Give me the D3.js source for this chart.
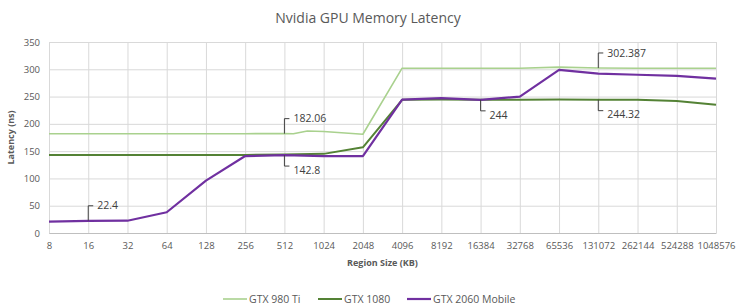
<!DOCTYPE html>
<html>
<head>
<meta charset="utf-8">
<script src="https://cdn.jsdelivr.net/npm/d3@7"></script>
<style>
  body { margin: 0; background: #fff; }
  text { font-family: "Open Sans", sans-serif; }
</style>
</head>
<body>
<div id="chart"></div>
<script>
// Nvidia GPU Memory Latency - line chart, log2 x axis
const xTicks = [8, 16, 32, 64, 128, 256, 512, 1024, 2048, 4096, 8192, 16384, 32768, 65536, 131072, 262144, 524288, 1048576];
const yTicks = [0, 50, 100, 150, 200, 250, 300, 350];

const sizes980 = [8, 16, 32, 64, 128, 256, 512, 600, 768, 1024, 2048, 4096, 8192, 16384, 32768, 65536, 131072, 262144, 524288, 1048576];
const lat980 = [182, 182, 182, 182, 182, 182, 182.06, 182, 187, 186, 181, 302, 302, 302, 302, 304, 302.387, 302, 302, 302];

const sizes1080 = [8, 16, 32, 64, 128, 256, 512, 1024, 2048, 4096, 8192, 16384, 32768, 65536, 131072, 262144, 524288, 1048576];
const lat1080 = [143, 143, 143, 143, 143, 143, 144, 145, 157, 244, 244.5, 244, 244, 244.5, 244.32, 244, 242, 235];

const sizes2060 = [8, 16, 32, 64, 128, 256, 512, 1024, 2048, 4096, 8192, 16384, 32768, 65536, 131072, 262144, 524288, 1048576];
const lat2060 = [21, 22.4, 22.5, 38, 96, 141, 142.8, 141, 141, 244.5, 247, 244, 250, 299, 292, 290, 288, 283];

const seriesNames = ["GTX 980 Ti", "GTX 1080", "GTX 2060 Mobile"];
const seriesColors = ["#a9d18e", "#548235", "#7030a0"];

// callout labels: [series index, size, text, direction]
const callouts = [
    [2, 16, "22.4", "up"],
    [0, 512, "182.06", "up"],
    [2, 512, "142.8", "down"],
    [2, 16384, "244", "down"],
    [0, 131072, "302.387", "up"],
    [1, 131072, "244.32", "down"]
];

const svgWidth = 752, svgHeight = 308;
const margin = { top: 42, right: 36, bottom: 75, left: 49 };
const width = svgWidth - margin.left - margin.right;
const height = svgHeight - margin.top - margin.bottom;

const svg = d3.select("#chart")
    .append("svg")
    .attr("width", svgWidth)
    .attr("height", svgHeight);

const g = svg.append("g")
    .attr("transform", `translate(${margin.left},${margin.top})`);

const xScale = d3.scaleLog().base(2)
    .domain([8, 1048576])
    .range([0, width]);

const yScale = d3.scaleLinear()
    .domain([0, 350])
    .range([height, 0]);

// grid
g.append("g")
    .attr("class", "grid")
    .call(d3.axisLeft(yScale).tickValues(yTicks).tickSize(-width).tickFormat(""))
    .call(s => s.select(".domain").remove())
    .selectAll("line")
    .attr("stroke", "#d9d9d9");

g.append("g")
    .attr("class", "grid")
    .attr("transform", `translate(0,${height})`)
    .call(d3.axisBottom(xScale).tickValues(xTicks).tickSize(-height).tickFormat(""))
    .call(s => s.select(".domain").remove())
    .selectAll("line")
    .attr("stroke", "#d9d9d9");

// axes
const xAxis = g.append("g")
    .attr("transform", `translate(0,${height})`)
    .call(d3.axisBottom(xScale).tickValues(xTicks).tickSize(0).tickPadding(9).tickFormat(d => d));
xAxis.select(".domain").attr("stroke", "#bfbfbf");
xAxis.selectAll("text")
    .attr("font-size", "9.5px")
    .attr("fill", "#595959");

const yAxis = g.append("g")
    .call(d3.axisLeft(yScale).tickValues(yTicks).tickSize(0).tickPadding(9));
yAxis.select(".domain").remove();
yAxis.selectAll("text")
    .attr("font-size", "9.5px")
    .attr("fill", "#595959");

// lines
const allSeries = [
    sizes980.map((s, i) => ({ x: s, y: lat980[i] })),
    sizes1080.map((s, i) => ({ x: s, y: lat1080[i] })),
    sizes2060.map((s, i) => ({ x: s, y: lat2060[i] }))
];
const lineWidths = [1.6, 2, 2.2];

const line = d3.line()
    .x(d => xScale(d.x))
    .y(d => yScale(d.y));

allSeries.forEach((data, i) => {
    g.append("path")
        .datum(data)
        .attr("fill", "none")
        .attr("stroke", seriesColors[i])
        .attr("stroke-width", lineWidths[i])
        .attr("stroke-linejoin", "round")
        .attr("d", line);
});

// callouts
callouts.forEach(c => {
    const [si, size, label, dir] = c;
    const idx = allSeries[si].findIndex(d => d.x === size);
    const px = xScale(size);
    const py = yScale(allSeries[si][idx].y);
    const ty = dir === "up" ? py - 15 : py + 11;
    g.append("path")
        .attr("d", `M${px},${py} L${px},${ty} L${px + 5},${ty}`)
        .attr("fill", "none")
        .attr("stroke", "#404040")
        .attr("stroke-width", 1);
    g.append("text")
        .attr("x", px + 9)
        .attr("y", ty + (dir === "up" ? 0 : 4))
        .attr("dy", "0.35em")
        .attr("font-size", "10.5px")
        .attr("fill", "#404040")
        .text(label);
});

// title
svg.append("text")
    .attr("x", 368)
    .attr("y", 18)
    .attr("dy", "0.35em")
    .attr("text-anchor", "middle")
    .attr("font-size", "14px")
    .attr("fill", "#595959")
    .text("Nvidia GPU Memory Latency");

// axis titles
svg.append("text")
    .attr("transform", `translate(11,${margin.top + height / 2}) rotate(-90)`)
    .attr("dy", "0.35em")
    .attr("text-anchor", "middle")
    .attr("font-size", "9px")
    .attr("font-weight", "bold")
    .attr("fill", "#595959")
    .text("Latency (ns)");

svg.append("text")
    .attr("x", margin.left + width / 2)
    .attr("y", 263)
    .attr("dy", "0.35em")
    .attr("text-anchor", "middle")
    .attr("font-size", "9px")
    .attr("font-weight", "bold")
    .attr("fill", "#595959")
    .text("Region Size (KB)");

// legend
const legendX = [223, 318, 407];
seriesNames.forEach((name, i) => {
    const lg = svg.append("g").attr("transform", `translate(${legendX[i]},299)`);
    lg.append("line")
        .attr("x1", 0).attr("x2", 24)
        .attr("stroke", seriesColors[i])
        .attr("stroke-width", lineWidths[i]);
    lg.append("text")
        .attr("x", 26)
        .attr("dy", "0.35em")
        .attr("font-size", "10.5px")
        .attr("fill", "#595959")
        .text(name);
});
</script>
</body>
</html>
